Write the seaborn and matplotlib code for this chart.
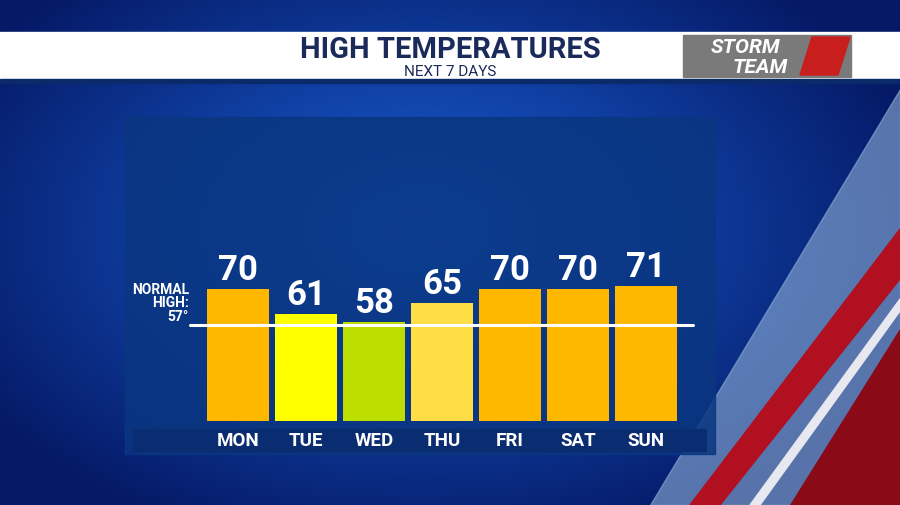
import numpy as np
import matplotlib
matplotlib.use("Agg")
import matplotlib.pyplot as plt
import seaborn as sns
import pandas as pd
from matplotlib.patches import Rectangle, Polygon

days = ["MON", "TUE", "WED", "THU", "FRI", "SAT", "SUN"]
highs = [70, 61, 58, 65, 70, 70, 71]
bar_colors = ["#FFB800", "#FFFF00", "#BBDD00", "#FFDD44", "#FFB800", "#FFB800", "#FFB800"]
normal_high = 57
base = 22

sns.set_style("white")
plt.rcParams['font.family'] = ['Roboto', 'DejaVu Sans']

fig = plt.figure(figsize=(9, 5.06), dpi=100)
bg = fig.add_axes([0, 0, 1, 1])
bg.set_xlim(0, 900); bg.set_ylim(506, 0); bg.axis("off")
yy, xx = np.mgrid[0:506, 0:900]
d = np.sqrt(((xx - 420) / 520) ** 2 + ((yy - 230) / 330) ** 2)
t = np.clip(d, 0, 1)[..., None]
c1 = np.array([0.10, 0.38, 0.85]); c2 = np.array([0.02, 0.10, 0.40])
img = c1 * (1 - t) + c2 * t
bg.imshow(img, extent=(0, 900, 506, 0), aspect="auto", zorder=0)
bg.add_patch(Polygon([[900, 90], [900, 506], [650, 506]], color="#8fb0d8", alpha=0.6, zorder=1))
bg.add_patch(Polygon([[900, 230], [900, 280], [720, 506], [690, 506]], color="#b01020", zorder=2))
bg.add_patch(Polygon([[900, 330], [900, 506], [790, 506]], color="#8a0a18", zorder=2))
bg.add_patch(Polygon([[900, 300], [900, 312], [760, 506], [750, 506]], color="#e8e8f0", zorder=2))
bg.add_patch(Rectangle((0, 33), 900, 47, color="white", zorder=3))
bg.add_patch(Rectangle((0, 80), 900, 4, color="#0a2a6a", zorder=3))
bg.text(450, 50, "HIGH TEMPERATURES", ha="center", va="center", fontsize=21, fontweight="bold", color="#1a2a5a", zorder=4)
bg.text(450, 72, "NEXT 7 DAYS", ha="center", va="center", fontsize=11, color="#1a2a5a", zorder=4)
bg.add_patch(Rectangle((683, 36), 168, 42, color="#7a7a7a", zorder=4))
bg.text(745, 47, "STORM", ha="center", va="center", fontsize=15, fontweight="bold", fontstyle="italic", color="white", zorder=5)
bg.text(760, 67, "TEAM", ha="center", va="center", fontsize=15, fontweight="bold", fontstyle="italic", color="white", zorder=5)
bg.add_patch(Polygon([[812, 38], [850, 38], [838, 76], [800, 76]], color="#c81e1e", zorder=5))
bg.add_patch(Rectangle((125, 118), 590, 337, color="#0a3680", alpha=0.85, zorder=3))

ax = fig.add_axes([133 / 900, (506 - 455) / 506, 574 / 900, 337 / 506])
ax.set_facecolor((0, 0, 0, 0))
df = pd.DataFrame({"day": days, "h": [v - base for v in highs]})
sns.barplot(data=df, x="day", y="h", hue="day", palette=bar_colors, legend=False,
            width=0.91, saturation=1, linewidth=0, ax=ax, zorder=3)
ax.set_xlim(-1.544, 6.897)
ax.set_ylim(-12, 110.5)
ax.axis("off")
ax.add_patch(Rectangle((-1.544, -10.9), 8.44, 8.0, color="#0a2c70", zorder=2))
for i, (d_, v) in enumerate(zip(days, highs)):
    ax.text(i, v - base + 1, str(v), ha="center", va="bottom", fontsize=25, fontweight="bold", color="white", zorder=5)
    ax.text(i, -6.9, d_, ha="center", va="center", fontsize=13.5, fontweight="bold", color="white", zorder=5)
ax.plot([-0.7, 6.69], [normal_high - base] * 2, color="white", lw=2.2, zorder=4)
ax.text(-0.72, normal_high - base + 0.8, "NORMAL\nHIGH:\n%d°" % normal_high, ha="right", va="bottom",
        fontsize=10, fontweight="bold", color="white", linespacing=0.95, zorder=5)
fig.savefig("out.png", dpi=100)
